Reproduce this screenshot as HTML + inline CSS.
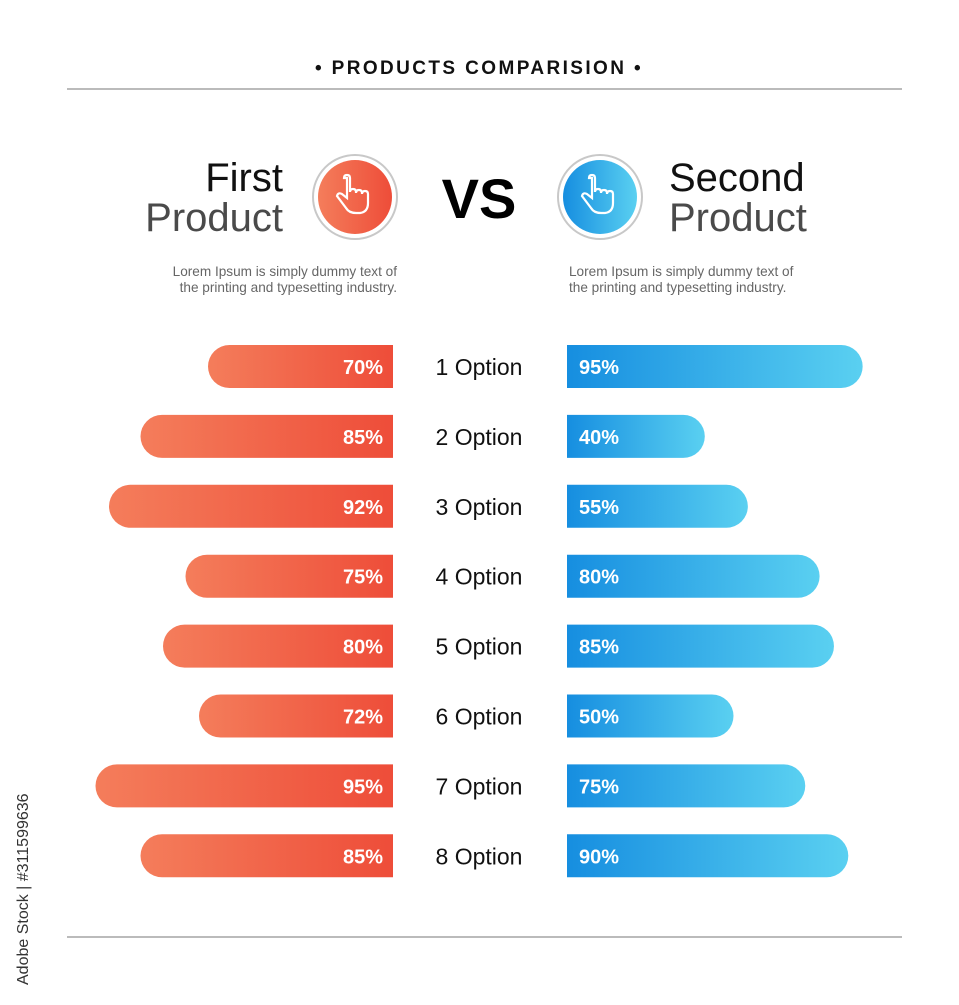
<!DOCTYPE html>
<html><head><meta charset="utf-8"><style>
body{margin:0;background:#fff;width:959px;height:1000px;overflow:hidden;font-family:"Liberation Sans",sans-serif}
</style></head><body>
<svg width="959" height="1000" viewBox="0 0 959 1000">
<defs>
<linearGradient id="gr" x1="0" x2="1"><stop offset="0" stop-color="#f47d5b"/><stop offset="1" stop-color="#ee4d39"/></linearGradient>
<linearGradient id="gb" x1="0" x2="1"><stop offset="0" stop-color="#168ee0"/><stop offset="1" stop-color="#5ad0f1"/></linearGradient>
</defs>
<text x="479" y="74" text-anchor="middle" font-size="19" font-weight="bold" letter-spacing="2.4" fill="#111">• PRODUCTS COMPARISION •</text>
<line x1="67" y1="89" x2="902" y2="89" stroke="#bbb" stroke-width="2"/>
<line x1="67" y1="937" x2="902" y2="937" stroke="#bbb" stroke-width="2"/>
<text x="283" y="191" text-anchor="end" font-size="40" fill="#111">First</text>
<text x="283" y="231" text-anchor="end" font-size="40" fill="#4a4a4a">Product</text>
<text x="669" y="191" font-size="40" fill="#111">Second</text>
<text x="669" y="231" font-size="40" fill="#4a4a4a">Product</text>
<text x="479" y="218" text-anchor="middle" font-size="56" font-weight="bold" fill="#000">VS</text>
<g>
<circle cx="355" cy="197" r="42" fill="#fff" stroke="#c8c8c8" stroke-width="2"/>
<circle cx="355" cy="197" r="37" fill="url(#gr)"/>
<path d="M347 178 v20 l-5 -4 q-4 -2 -5 2 l9 12 q3 5 10 5 h4 q8 -1 8 -10 v-9 q0 -3 -3 -3 q-3 0 -3 3 v-1 q0 -3 -3 -3 q-3 0 -3 3 v-1 q0 -3 -3 -3 q-3 0 -3 3 v-14 q0 -3 -3 -3 q-3 0 -3 3z" fill="none" stroke="#fff" stroke-width="2.2"/>
</g>
<g>
<circle cx="600" cy="197" r="42" fill="#fff" stroke="#c8c8c8" stroke-width="2"/>
<circle cx="600" cy="197" r="37" fill="url(#gb)"/>
<path d="M592 178 v20 l-5 -4 q-4 -2 -5 2 l9 12 q3 5 10 5 h4 q8 -1 8 -10 v-9 q0 -3 -3 -3 q-3 0 -3 3 v-1 q0 -3 -3 -3 q-3 0 -3 3 v-1 q0 -3 -3 -3 q-3 0 -3 3 v-14 q0 -3 -3 -3 q-3 0 -3 3z" fill="none" stroke="#fff" stroke-width="2.2"/>
</g>
<text font-size="13.6" fill="#666" text-anchor="end"><tspan x="397" y="276">Lorem Ipsum is simply dummy text of</tspan><tspan x="397" y="292">the printing and typesetting industry.</tspan></text>
<text font-size="13.6" fill="#666"><tspan x="569" y="276">Lorem Ipsum is simply dummy text of</tspan><tspan x="569" y="292">the printing and typesetting industry.</tspan></text>
<text transform="translate(28,985) rotate(-90)" font-size="16" fill="#333">Adobe Stock | #311599636</text>
<g id="bars"></g>
</svg>
<script>
const categories=["1 Option","2 Option","3 Option","4 Option","5 Option","6 Option","7 Option","8 Option"];
const firstValues=[70,85,92,75,80,72,95,85];
const secondValues=[95,40,55,80,85,50,75,90];
const NS="http://www.w3.org/2000/svg";
const g=document.getElementById('bars');
const rowY=i=>345+i*69.9;
const leftW=v=>Math.max(50,-130+4.5*v);
const rightW=v=>Math.max(50,23+2.87*v);
const H=43,r=21.5;
function mk(t,a){const e=document.createElementNS(NS,t);for(const k in a)e.setAttribute(k,a[k]);return e;}
categories.forEach((c,i)=>{
 const y=rowY(i);
 const lw=leftW(firstValues[i]),x0=393-lw;
 const lp=mk('path',{d:`M393 ${y} H${x0+r} A${r} ${r} 0 0 0 ${x0+r} ${y+H} H393 Z`,fill:'url(#gr)'});
 
 
 g.appendChild(lp);
 const lt=mk('text',{x:383,y:y+29,'text-anchor':'end','font-size':20,'font-weight':'bold',fill:'#fff'});
 lt.textContent=firstValues[i]+'%';
 
 
 g.appendChild(lt);
 const rw=rightW(secondValues[i]),x1=567+rw;
 const rp=mk('path',{d:`M567 ${y} H${x1-r} A${r} ${r} 0 0 1 ${x1-r} ${y+H} H567 Z`,fill:'url(#gb)'});
 
 
 g.appendChild(rp);
 const rt=mk('text',{x:579,y:y+29,'font-size':20,'font-weight':'bold',fill:'#fff'});
 rt.textContent=secondValues[i]+'%';
 
 
 g.appendChild(rt);
 const ct=mk('text',{x:479,y:y+30,'text-anchor':'middle','font-size':23,fill:'#111'});
 ct.textContent=c;
 
 
 g.appendChild(ct);
});
</script>
</body></html>
